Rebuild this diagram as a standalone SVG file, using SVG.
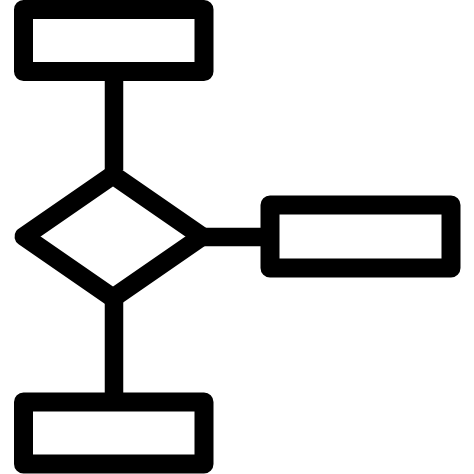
<svg xmlns="http://www.w3.org/2000/svg" width="474" height="474" viewBox="0 0 474 474">
<style>
.s{fill:none;stroke:#000;stroke-width:19;stroke-linejoin:round}
.c{stroke:#000;stroke-width:18.5}
</style>
<rect width="474" height="474" fill="#fff"/>
<g id="connectors">
<line class="c" x1="114" y1="80" x2="114" y2="170"/>
<line class="c" x1="114" y1="300" x2="114" y2="394"/>
<line class="c" x1="195" y1="237" x2="262" y2="237"/>
</g>
<g id="top"><rect class="s" x="23.5" y="9.5" width="180.5" height="62"/></g>
<g id="decision"><polygon class="s" points="113,175 202,236.5 113,298 24,236.5"/></g>
<g id="right"><rect class="s" x="270" y="205" width="181" height="63"/></g>
<g id="bottom"><rect class="s" x="23.5" y="402" width="180.5" height="62"/></g>
</svg>
